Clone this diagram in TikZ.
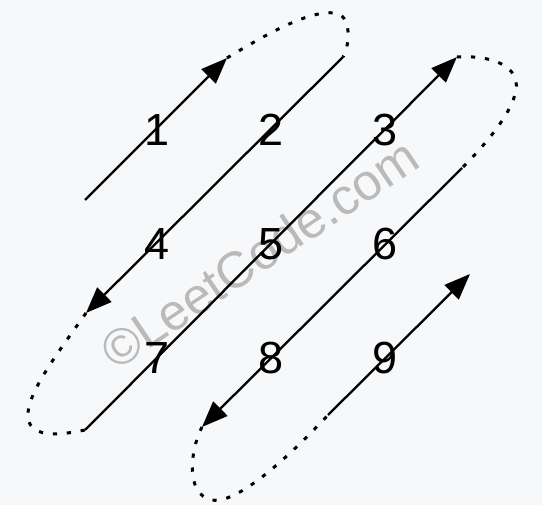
\documentclass[tikz,border=0pt]{standalone}
\usepackage{fontspec}
\setmainfont{Liberation Sans}
\usetikzlibrary{arrows.meta}
\definecolor{bg}{RGB}{247,248,250}
\definecolor{wm}{RGB}{186,186,186}
\begin{document}
\begin{tikzpicture}[x=1pt,y=-1pt,
  digit/.style={font=\fontsize{45}{54}\selectfont, inner sep=0pt},
  arrowline/.style={line width=2.3pt, -{Triangle[length=26pt,width=20pt]}},
  dotline/.style={line width=3pt, dash pattern=on 4.2pt off 9.8pt}
]
\fill[bg] (0,0) rectangle (542,505);
\useasboundingbox (0,0) rectangle (542,505);
% watermark
\node[text=wm, font=\fontsize{51}{60}\selectfont, rotate=34, anchor=base west, inner sep=0pt] (wmk) at (116,372) {©LeetCode.com};
% digits
\node[digit] (n1) at (157,130) {1};
\node[digit] (n2) at (271,130) {2};
\node[digit] (n3) at (385,130) {3};
\node[digit] (n4) at (157,244) {4};
\node[digit] (n5) at (271,244) {5};
\node[digit] (n6) at (385,244) {6};
\node[digit] (n7) at (157,358) {7};
\node[digit] (n8) at (271,358) {8};
\node[digit] (n9) at (385,358) {9};
% end points
\coordinate (s1) at (85,200);  \coordinate (t1) at (227,58);
\coordinate (s2) at (343,57);  \coordinate (t2) at (86,313);
\coordinate (s3) at (85,430);  \coordinate (t3) at (457,57);
\coordinate (s4) at (462,168); \coordinate (t4) at (202,427);
\coordinate (s5) at (328,415); \coordinate (t5) at (470,274);
% solid lines
\draw[arrowline] (s1) -- (t1);
\draw[arrowline] (s2) -- (t2);
\draw[arrowline] (s3) -- (t3);
\draw[arrowline] (s4) -- (t4);
\draw[arrowline] (s5) -- (t5);
% dotted turns
\draw[dotline] (t1) .. controls (270,32) and (310,10) .. (335,13) .. controls (352,15) and (350,45) .. (s2);
\draw[dotline] (t3) .. controls (490,55) and (520,65) .. (516,90) .. controls (512,115) and (480,150) .. (s4);
\draw[dotline] (t2) .. controls (60,350) and (25,395) .. (28,418) .. controls (31,440) and (65,434) .. (s3);
\draw[dotline] (t4) .. controls (190,450) and (185,495) .. (212,500) .. controls (240,505) and (300,445) .. (s5);
\end{tikzpicture}
\end{document}
